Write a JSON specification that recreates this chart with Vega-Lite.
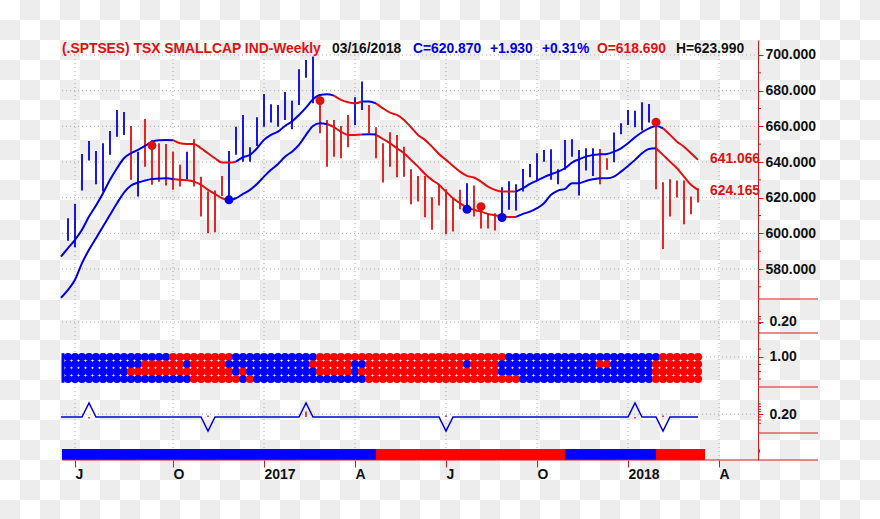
{
"$schema":"https://vega.github.io/schema/vega-lite/v6.json",
"width":880,"height":519,"padding":0,"autosize":"none","background":"#ffffff",
"view":{"stroke":null},
"config":{"text":{"font":"Liberation Sans"},"axis":{"labelFont":"Liberation Sans"}},
"datasets":{
"bars":[
{"d":"2016-06-24","p":608.5,"p2":595.8,"c":"U"},{"d":"2016-07-01","p":616.5,"p2":592.2,"c":"U"},{"d":"2016-07-08","p":644.5,"p2":624.0,"c":"U"},{"d":"2016-07-15","p":651.8,"p2":640.8,"c":"U"},{"d":"2016-07-22","p":646.2,"p2":627.5,"c":"U"},{"d":"2016-07-29","p":650.5,"p2":623.4,"c":"U"},{"d":"2016-08-05","p":657.4,"p2":644.0,"c":"U"},{"d":"2016-08-12","p":669.2,"p2":654.2,"c":"U"},{"d":"2016-08-19","p":668.1,"p2":655.2,"c":"U"},{"d":"2016-08-26","p":660.2,"p2":630.0,"c":"D"},{"d":"2016-09-02","p":645.8,"p2":620.6,"c":"U"},{"d":"2016-09-09","p":664.1,"p2":637.4,"c":"D"},{"d":"2016-09-16","p":652.4,"p2":627.2,"c":"D"},{"d":"2016-09-23","p":650.5,"p2":629.0,"c":"D"},{"d":"2016-09-30","p":650.1,"p2":626.8,"c":"D"},{"d":"2016-10-07","p":645.7,"p2":624.4,"c":"D"},{"d":"2016-10-14","p":638.4,"p2":626.2,"c":"D"},{"d":"2016-10-21","p":645.8,"p2":630.3,"c":"U"},{"d":"2016-10-28","p":652.8,"p2":626.2,"c":"D"},{"d":"2016-11-04","p":631.8,"p2":609.4,"c":"D"},{"d":"2016-11-11","p":623.4,"p2":600.1,"c":"D"},{"d":"2016-11-18","p":624.0,"p2":600.6,"c":"D"},{"d":"2016-11-25","p":632.2,"p2":621.0,"c":"D"},{"d":"2016-12-02","p":646.2,"p2":616.9,"c":"U"},{"d":"2016-12-09","p":659.8,"p2":644.0,"c":"U"},{"d":"2016-12-16","p":666.4,"p2":640.2,"c":"U"},{"d":"2016-12-23","p":648.3,"p2":640.2,"c":"U"},{"d":"2016-12-30","p":665.1,"p2":649.0,"c":"U"},
{"d":"2017-01-06","p":678.1,"p2":659.8,"c":"U"},{"d":"2017-01-13","p":672.4,"p2":662.1,"c":"U"},{"d":"2017-01-20","p":672.0,"p2":659.8,"c":"U"},{"d":"2017-01-27","p":679.3,"p2":663.6,"c":"U"},{"d":"2017-02-03","p":674.4,"p2":658.4,"c":"U"},{"d":"2017-02-10","p":692.0,"p2":672.0,"c":"U"},{"d":"2017-02-17","p":697.2,"p2":687.3,"c":"U"},{"d":"2017-02-24","p":699.1,"p2":672.9,"c":"U"},{"d":"2017-03-03","p":676.7,"p2":656.1,"c":"D"},{"d":"2017-03-10","p":663.6,"p2":637.4,"c":"D"},{"d":"2017-03-17","p":663.6,"p2":643.0,"c":"D"},{"d":"2017-03-24","p":660.2,"p2":642.1,"c":"D"},{"d":"2017-03-31","p":666.4,"p2":648.3,"c":"D"},{"d":"2017-04-07","p":676.3,"p2":660.8,"c":"U"},{"d":"2017-04-14","p":685.1,"p2":669.2,"c":"U"},{"d":"2017-04-21","p":672.0,"p2":656.1,"c":"D"},{"d":"2017-04-28","p":659.5,"p2":642.1,"c":"D"},{"d":"2017-05-05","p":650.5,"p2":628.5,"c":"D"},{"d":"2017-05-12","p":656.7,"p2":637.4,"c":"D"},{"d":"2017-05-19","p":655.2,"p2":631.5,"c":"D"},{"d":"2017-05-26","p":648.6,"p2":631.8,"c":"D"},{"d":"2017-06-02","p":635.9,"p2":616.3,"c":"D"},{"d":"2017-06-09","p":632.2,"p2":617.8,"c":"D"},{"d":"2017-06-16","p":632.2,"p2":609.1,"c":"D"},{"d":"2017-06-23","p":620.3,"p2":602.0,"c":"D"},{"d":"2017-06-30","p":627.2,"p2":615.6,"c":"D"},{"d":"2017-07-07","p":624.7,"p2":599.5,"c":"D"},{"d":"2017-07-14","p":619.7,"p2":601.0,"c":"D"},{"d":"2017-07-21","p":624.4,"p2":613.5,"c":"D"},{"d":"2017-07-28","p":628.1,"p2":613.2,"c":"U"},{"d":"2017-08-04","p":626.8,"p2":609.4,"c":"D"},{"d":"2017-08-11","p":616.9,"p2":602.7,"c":"D"},{"d":"2017-08-18","p":610.9,"p2":602.7,"c":"D"},{"d":"2017-08-25","p":611.3,"p2":601.6,"c":"D"},{"d":"2017-09-01","p":625.9,"p2":608.5,"c":"U"},{"d":"2017-09-08","p":629.2,"p2":613.2,"c":"U"},{"d":"2017-09-15","p":627.5,"p2":612.8,"c":"U"},{"d":"2017-09-22","p":636.1,"p2":623.4,"c":"U"},{"d":"2017-09-29","p":638.9,"p2":631.5,"c":"U"},{"d":"2017-10-06","p":644.9,"p2":629.6,"c":"U"},{"d":"2017-10-13","p":646.8,"p2":640.2,"c":"U"},{"d":"2017-10-20","p":647.1,"p2":630.0,"c":"U"},{"d":"2017-10-27","p":635.9,"p2":627.5,"c":"U"},{"d":"2017-11-03","p":652.4,"p2":635.6,"c":"U"},{"d":"2017-11-10","p":652.8,"p2":643.0,"c":"U"},{"d":"2017-11-17","p":646.8,"p2":621.2,"c":"U"},{"d":"2017-11-24","p":647.7,"p2":635.2,"c":"U"},{"d":"2017-12-01","p":647.7,"p2":632.2,"c":"U"},{"d":"2017-12-08","p":647.3,"p2":627.5,"c":"D"},{"d":"2017-12-15","p":642.1,"p2":635.6,"c":"D"},{"d":"2017-12-22","p":656.5,"p2":639.9,"c":"U"},{"d":"2017-12-29","p":661.7,"p2":655.6,"c":"U"},
{"d":"2018-01-05","p":669.2,"p2":660.8,"c":"U"},{"d":"2018-01-12","p":668.8,"p2":659.5,"c":"U"},{"d":"2018-01-19","p":673.5,"p2":657.6,"c":"U"},{"d":"2018-01-26","p":672.5,"p2":662.1,"c":"U"},{"d":"2018-02-02","p":663.6,"p2":624.7,"c":"D"},{"d":"2018-02-09","p":628.7,"p2":591.3,"c":"D"},{"d":"2018-02-16","p":630.3,"p2":609.4,"c":"D"},{"d":"2018-02-23","p":629.6,"p2":620.1,"c":"D"},{"d":"2018-03-02","p":629.6,"p2":605.1,"c":"D"},{"d":"2018-03-09","p":620.6,"p2":610.7,"c":"D"},{"d":"2018-03-16","p":625.3,"p2":617.3,"c":"D"}
],
"env":[
{"s":"a","c":"U","d":"2016-06-17","p":587.0},{"s":"a","c":"U","d":"2016-06-24","p":591.7},{"s":"a","c":"U","d":"2016-07-01","p":596.4},{"s":"a","c":"U","d":"2016-07-08","p":602.0},{"s":"a","c":"U","d":"2016-07-15","p":609.4},{"s":"a","c":"U","d":"2016-07-22","p":615.6},{"s":"a","c":"U","d":"2016-07-29","p":622.5},{"s":"a","c":"U","d":"2016-08-05","p":630.0},{"s":"a","c":"U","d":"2016-08-12","p":636.5},{"s":"a","c":"U","d":"2016-08-19","p":642.1},{"s":"a","c":"U","d":"2016-08-26","p":644.9},{"s":"a","c":"U","d":"2016-09-02","p":646.8},{"s":"a","c":"U","d":"2016-09-09","p":649.0},{"s":"a","c":"U","d":"2016-09-16","p":651.4},{"s":"a","c":"U","d":"2016-09-23","p":652.2},{"s":"a","c":"U","d":"2016-09-30","p":652.4},{"s":"a","c":"U","d":"2016-10-07","p":652.2},
{"s":"b","c":"D","d":"2016-10-07","p":652.2},{"s":"b","c":"D","d":"2016-10-14","p":650.5},{"s":"b","c":"D","d":"2016-10-21","p":650.1},{"s":"b","c":"D","d":"2016-10-28","p":650.1},{"s":"b","c":"D","d":"2016-11-04","p":647.7},{"s":"b","c":"D","d":"2016-11-11","p":644.9},{"s":"b","c":"D","d":"2016-11-18","p":642.1},{"s":"b","c":"D","d":"2016-11-25","p":639.7},{"s":"b","c":"D","d":"2016-12-02","p":639.7},{"s":"b","c":"D","d":"2016-12-09","p":640.2},
{"s":"c","c":"U","d":"2016-12-09","p":640.2},{"s":"c","c":"U","d":"2016-12-16","p":642.7},{"s":"c","c":"U","d":"2016-12-23","p":644.0},{"s":"c","c":"U","d":"2016-12-30","p":647.7},{"s":"c","c":"U","d":"2017-01-06","p":652.4},{"s":"c","c":"U","d":"2017-01-13","p":655.2},{"s":"c","c":"U","d":"2017-01-20","p":657.0},{"s":"c","c":"U","d":"2017-01-27","p":660.2},{"s":"c","c":"U","d":"2017-02-03","p":662.7},{"s":"c","c":"U","d":"2017-02-10","p":666.4},{"s":"c","c":"U","d":"2017-02-17","p":670.5},{"s":"c","c":"U","d":"2017-02-24","p":675.2},{"s":"c","c":"U","d":"2017-03-03","p":677.6},{"s":"c","c":"U","d":"2017-03-10","p":678.0},{"s":"c","c":"U","d":"2017-03-17","p":677.2},
{"s":"d","c":"D","d":"2017-03-17","p":677.2},{"s":"d","c":"D","d":"2017-03-24","p":674.8},{"s":"d","c":"D","d":"2017-03-31","p":673.5},{"s":"d","c":"D","d":"2017-04-07","p":672.9},{"s":"d","c":"D","d":"2017-04-14","p":673.9},
{"s":"e","c":"U","d":"2017-04-14","p":673.9},{"s":"e","c":"U","d":"2017-04-21","p":673.9},{"s":"e","c":"U","d":"2017-04-28","p":672.9},
{"s":"f","c":"D","d":"2017-04-28","p":672.9},{"s":"f","c":"D","d":"2017-05-05","p":670.1},{"s":"f","c":"D","d":"2017-05-12","p":667.7},{"s":"f","c":"D","d":"2017-05-19","p":666.4},{"s":"f","c":"D","d":"2017-05-26","p":663.6},{"s":"f","c":"D","d":"2017-06-02","p":659.5},{"s":"f","c":"D","d":"2017-06-09","p":655.2},{"s":"f","c":"D","d":"2017-06-16","p":652.4},{"s":"f","c":"D","d":"2017-06-23","p":648.6},{"s":"f","c":"D","d":"2017-06-30","p":644.5},{"s":"f","c":"D","d":"2017-07-07","p":641.2},{"s":"f","c":"D","d":"2017-07-14","p":637.8},{"s":"f","c":"D","d":"2017-07-21","p":634.6},{"s":"f","c":"D","d":"2017-07-28","p":632.2},{"s":"f","c":"D","d":"2017-08-04","p":631.3},{"s":"f","c":"D","d":"2017-08-11","p":629.0},{"s":"f","c":"D","d":"2017-08-18","p":626.2},{"s":"f","c":"D","d":"2017-08-25","p":624.4},{"s":"f","c":"D","d":"2017-09-01","p":623.4},{"s":"f","c":"D","d":"2017-09-08","p":623.4},{"s":"f","c":"D","d":"2017-09-15","p":623.4},
{"s":"g","c":"U","d":"2017-09-15","p":623.4},{"s":"g","c":"U","d":"2017-09-22","p":625.3},{"s":"g","c":"U","d":"2017-09-29","p":627.7},{"s":"g","c":"U","d":"2017-10-06","p":629.6},{"s":"g","c":"U","d":"2017-10-13","p":631.5},{"s":"g","c":"U","d":"2017-10-20","p":633.1},{"s":"g","c":"U","d":"2017-10-27","p":634.6},{"s":"g","c":"U","d":"2017-11-03","p":636.5},{"s":"g","c":"U","d":"2017-11-10","p":639.7},{"s":"g","c":"U","d":"2017-11-17","p":641.5},{"s":"g","c":"U","d":"2017-11-24","p":643.0},{"s":"g","c":"U","d":"2017-12-01","p":644.0},{"s":"g","c":"U","d":"2017-12-08","p":644.3},{"s":"g","c":"U","d":"2017-12-15","p":644.5},{"s":"g","c":"U","d":"2017-12-22","p":645.8},{"s":"g","c":"U","d":"2017-12-29","p":647.7},{"s":"g","c":"U","d":"2018-01-05","p":650.5},{"s":"g","c":"U","d":"2018-01-12","p":653.9},{"s":"g","c":"U","d":"2018-01-19","p":656.7},{"s":"g","c":"U","d":"2018-01-26","p":658.9},{"s":"g","c":"U","d":"2018-02-02","p":660.2},{"s":"g","c":"U","d":"2018-02-09","p":658.9},
{"s":"h","c":"D","d":"2018-02-09","p":658.9},{"s":"h","c":"D","d":"2018-02-16","p":655.2},{"s":"h","c":"D","d":"2018-02-23","p":651.4},{"s":"h","c":"D","d":"2018-03-02","p":648.6},{"s":"h","c":"D","d":"2018-03-09","p":644.9},{"s":"h","c":"D","d":"2018-03-16","p":641.2},
{"s":"i","c":"U","d":"2016-06-17","p":563.9},{"s":"i","c":"U","d":"2016-06-24","p":568.3},{"s":"i","c":"U","d":"2016-07-01","p":574.0},{"s":"i","c":"U","d":"2016-07-08","p":583.3},{"s":"i","c":"U","d":"2016-07-15","p":590.8},{"s":"i","c":"U","d":"2016-07-22","p":597.3},{"s":"i","c":"U","d":"2016-07-29","p":603.8},{"s":"i","c":"U","d":"2016-08-05","p":610.4},{"s":"i","c":"U","d":"2016-08-12","p":616.9},{"s":"i","c":"U","d":"2016-08-19","p":622.9},{"s":"i","c":"U","d":"2016-08-26","p":626.8},{"s":"i","c":"U","d":"2016-09-02","p":628.5},{"s":"i","c":"U","d":"2016-09-09","p":629.6},{"s":"i","c":"U","d":"2016-09-16","p":630.5},{"s":"i","c":"U","d":"2016-09-23","p":630.7},{"s":"i","c":"U","d":"2016-09-30","p":630.9},{"s":"i","c":"U","d":"2016-10-07","p":630.5},
{"s":"j","c":"D","d":"2016-10-07","p":630.5},{"s":"j","c":"D","d":"2016-10-14","p":630.0},{"s":"j","c":"D","d":"2016-10-21","p":629.8},{"s":"j","c":"D","d":"2016-10-28","p":629.0},{"s":"j","c":"D","d":"2016-11-04","p":627.2},{"s":"j","c":"D","d":"2016-11-11","p":624.4},{"s":"j","c":"D","d":"2016-11-18","p":622.1},{"s":"j","c":"D","d":"2016-11-25","p":619.7},{"s":"j","c":"D","d":"2016-12-02","p":618.8},
{"s":"k","c":"U","d":"2016-12-02","p":618.8},{"s":"k","c":"U","d":"2016-12-09","p":619.7},{"s":"k","c":"U","d":"2016-12-16","p":622.1},{"s":"k","c":"U","d":"2016-12-23","p":624.4},{"s":"k","c":"U","d":"2016-12-30","p":627.7},{"s":"k","c":"U","d":"2017-01-06","p":631.8},{"s":"k","c":"U","d":"2017-01-13","p":635.6},{"s":"k","c":"U","d":"2017-01-20","p":638.9},{"s":"k","c":"U","d":"2017-01-27","p":643.0},{"s":"k","c":"U","d":"2017-02-03","p":645.8},{"s":"k","c":"U","d":"2017-02-10","p":649.6},{"s":"k","c":"U","d":"2017-02-17","p":655.2},{"s":"k","c":"U","d":"2017-02-24","p":660.2},{"s":"k","c":"U","d":"2017-03-03","p":661.7},{"s":"k","c":"U","d":"2017-03-10","p":661.3},
{"s":"l","c":"D","d":"2017-03-10","p":661.3},{"s":"l","c":"D","d":"2017-03-17","p":659.5},{"s":"l","c":"D","d":"2017-03-24","p":657.0},{"s":"l","c":"D","d":"2017-03-31","p":655.2},{"s":"l","c":"D","d":"2017-04-07","p":655.2},{"s":"l","c":"D","d":"2017-04-14","p":655.4},
{"s":"m","c":"U","d":"2017-04-14","p":655.4},{"s":"m","c":"U","d":"2017-04-21","p":655.6},{"s":"m","c":"U","d":"2017-04-28","p":655.4},
{"s":"n","c":"D","d":"2017-04-28","p":655.4},{"s":"n","c":"D","d":"2017-05-05","p":652.9},{"s":"n","c":"D","d":"2017-05-12","p":650.5},{"s":"n","c":"D","d":"2017-05-19","p":647.7},{"s":"n","c":"D","d":"2017-05-26","p":644.9},{"s":"n","c":"D","d":"2017-06-02","p":641.2},{"s":"n","c":"D","d":"2017-06-09","p":637.4},{"s":"n","c":"D","d":"2017-06-16","p":633.3},{"s":"n","c":"D","d":"2017-06-23","p":630.0},{"s":"n","c":"D","d":"2017-06-30","p":627.2},{"s":"n","c":"D","d":"2017-07-07","p":623.4},{"s":"n","c":"D","d":"2017-07-14","p":619.7},{"s":"n","c":"D","d":"2017-07-21","p":616.9},{"s":"n","c":"D","d":"2017-07-28","p":614.5},{"s":"n","c":"D","d":"2017-08-04","p":613.2},{"s":"n","c":"D","d":"2017-08-11","p":612.2},{"s":"n","c":"D","d":"2017-08-18","p":610.9},{"s":"n","c":"D","d":"2017-08-25","p":610.2},{"s":"n","c":"D","d":"2017-09-01","p":609.4},{"s":"n","c":"D","d":"2017-09-08","p":609.2},{"s":"n","c":"D","d":"2017-09-15","p":609.2},
{"s":"o","c":"U","d":"2017-09-15","p":609.2},{"s":"o","c":"U","d":"2017-09-22","p":610.9},{"s":"o","c":"U","d":"2017-09-29","p":612.2},{"s":"o","c":"U","d":"2017-10-06","p":614.1},{"s":"o","c":"U","d":"2017-10-13","p":616.9},{"s":"o","c":"U","d":"2017-10-20","p":621.6},{"s":"o","c":"U","d":"2017-10-27","p":624.0},{"s":"o","c":"U","d":"2017-11-03","p":624.9},{"s":"o","c":"U","d":"2017-11-10","p":628.1},{"s":"o","c":"U","d":"2017-11-17","p":628.1},{"s":"o","c":"U","d":"2017-11-24","p":629.4},{"s":"o","c":"U","d":"2017-12-01","p":630.3},{"s":"o","c":"U","d":"2017-12-08","p":630.9},{"s":"o","c":"U","d":"2017-12-15","p":630.9},{"s":"o","c":"U","d":"2017-12-22","p":631.8},{"s":"o","c":"U","d":"2017-12-29","p":634.6},{"s":"o","c":"U","d":"2018-01-05","p":637.8},{"s":"o","c":"U","d":"2018-01-12","p":641.2},{"s":"o","c":"U","d":"2018-01-19","p":644.9},{"s":"o","c":"U","d":"2018-01-26","p":647.3},{"s":"o","c":"U","d":"2018-02-02","p":647.7},
{"s":"q","c":"D","d":"2018-02-02","p":647.7},{"s":"q","c":"D","d":"2018-02-09","p":644.0},{"s":"q","c":"D","d":"2018-02-16","p":640.2},{"s":"q","c":"D","d":"2018-02-23","p":636.5},{"s":"q","c":"D","d":"2018-03-02","p":631.8},{"s":"q","c":"D","d":"2018-03-09","p":627.2},{"s":"q","c":"D","d":"2018-03-16","p":624.4}
],
"dots":[{"d":"2016-09-16","p":649.2,"c":"D"},{"d":"2016-12-02","p":618.8,"c":"U"},{"d":"2017-03-03","p":674.4,"c":"D"},{"d":"2017-07-28","p":613.5,"c":"U"},{"d":"2017-08-11","p":615.0,"c":"D"},{"d":"2017-09-01","p":608.9,"c":"U"},{"d":"2018-02-02","p":662.3,"c":"D"}],
"head":[{"d":"2016-06-18","p":703.4,"c":"D","t":"(.SPTSES) TSX SMALLCAP IND-Weekly"},{"d":"2017-03-15","p":703.4,"c":"N","t":"03/16/2018"},{"d":"2017-06-04","p":703.4,"c":"U","t":"C=620.870"},{"d":"2017-08-20","p":703.4,"c":"U","t":"+1.930"},{"d":"2017-10-11","p":703.4,"c":"U","t":"+0.31%"},{"d":"2017-12-05","p":703.4,"c":"D","t":"O=618.690"},{"d":"2018-02-22","p":703.4,"c":"N","t":"H=623.990"},{"d":"2018-03-28","p":641.5,"c":"D","t":"641.066"},{"d":"2018-03-28","p":624.0,"c":"D","t":"624.165"}],
"cells":[
{"d":"2016-06-24","p":1,"c":"U"},{"d":"2016-07-01","p":1,"c":"U"},{"d":"2016-07-08","p":1,"c":"U"},{"d":"2016-07-15","p":1,"c":"U"},{"d":"2016-07-22","p":1,"c":"U"},{"d":"2016-07-29","p":1,"c":"U"},{"d":"2016-08-05","p":1,"c":"U"},{"d":"2016-08-12","p":1,"c":"U"},{"d":"2016-08-19","p":1,"c":"U"},{"d":"2016-08-26","p":1,"c":"U"},{"d":"2016-09-02","p":1,"c":"U"},{"d":"2016-09-09","p":1,"c":"U"},{"d":"2016-09-16","p":1,"c":"U"},{"d":"2016-09-23","p":1,"c":"U"},{"d":"2016-09-30","p":1,"c":"U"},{"d":"2016-10-07","p":1,"c":"D"},{"d":"2016-10-14","p":1,"c":"D"},{"d":"2016-10-21","p":1,"c":"D"},{"d":"2016-10-28","p":1,"c":"D"},{"d":"2016-11-04","p":1,"c":"D"},{"d":"2016-11-11","p":1,"c":"D"},{"d":"2016-11-18","p":1,"c":"D"},{"d":"2016-11-25","p":1,"c":"D"},{"d":"2016-12-02","p":1,"c":"D"},{"d":"2016-12-09","p":1,"c":"U"},{"d":"2016-12-16","p":1,"c":"U"},{"d":"2016-12-23","p":1,"c":"U"},{"d":"2016-12-30","p":1,"c":"U"},{"d":"2017-01-06","p":1,"c":"U"},{"d":"2017-01-13","p":1,"c":"U"},{"d":"2017-01-20","p":1,"c":"U"},{"d":"2017-01-27","p":1,"c":"U"},{"d":"2017-02-03","p":1,"c":"U"},{"d":"2017-02-10","p":1,"c":"U"},{"d":"2017-02-17","p":1,"c":"U"},{"d":"2017-02-24","p":1,"c":"U"},{"d":"2017-03-03","p":1,"c":"D"},{"d":"2017-03-10","p":1,"c":"D"},{"d":"2017-03-17","p":1,"c":"D"},{"d":"2017-03-24","p":1,"c":"D"},{"d":"2017-03-31","p":1,"c":"D"},{"d":"2017-04-07","p":1,"c":"D"},{"d":"2017-04-14","p":1,"c":"D"},{"d":"2017-04-21","p":1,"c":"D"},{"d":"2017-04-28","p":1,"c":"D"},{"d":"2017-05-05","p":1,"c":"D"},{"d":"2017-05-12","p":1,"c":"D"},{"d":"2017-05-19","p":1,"c":"D"},{"d":"2017-05-26","p":1,"c":"D"},{"d":"2017-06-02","p":1,"c":"D"},{"d":"2017-06-09","p":1,"c":"D"},{"d":"2017-06-16","p":1,"c":"D"},{"d":"2017-06-23","p":1,"c":"D"},{"d":"2017-06-30","p":1,"c":"D"},{"d":"2017-07-07","p":1,"c":"D"},{"d":"2017-07-14","p":1,"c":"D"},{"d":"2017-07-21","p":1,"c":"D"},{"d":"2017-07-28","p":1,"c":"D"},{"d":"2017-08-04","p":1,"c":"D"},{"d":"2017-08-11","p":1,"c":"D"},{"d":"2017-08-18","p":1,"c":"D"},{"d":"2017-08-25","p":1,"c":"D"},{"d":"2017-09-01","p":1,"c":"D"},{"d":"2017-09-08","p":1,"c":"U"},{"d":"2017-09-15","p":1,"c":"U"},{"d":"2017-09-22","p":1,"c":"U"},{"d":"2017-09-29","p":1,"c":"U"},{"d":"2017-10-06","p":1,"c":"U"},{"d":"2017-10-13","p":1,"c":"U"},{"d":"2017-10-20","p":1,"c":"U"},{"d":"2017-10-27","p":1,"c":"U"},{"d":"2017-11-03","p":1,"c":"U"},{"d":"2017-11-10","p":1,"c":"U"},{"d":"2017-11-17","p":1,"c":"U"},{"d":"2017-11-24","p":1,"c":"U"},{"d":"2017-12-01","p":1,"c":"U"},{"d":"2017-12-08","p":1,"c":"U"},{"d":"2017-12-15","p":1,"c":"U"},{"d":"2017-12-22","p":1,"c":"U"},{"d":"2017-12-29","p":1,"c":"U"},{"d":"2018-01-05","p":1,"c":"U"},{"d":"2018-01-12","p":1,"c":"U"},{"d":"2018-01-19","p":1,"c":"U"},{"d":"2018-01-26","p":1,"c":"U"},{"d":"2018-02-02","p":1,"c":"U"},{"d":"2018-02-09","p":1,"c":"D"},{"d":"2018-02-16","p":1,"c":"D"},{"d":"2018-02-23","p":1,"c":"D"},{"d":"2018-03-02","p":1,"c":"D"},{"d":"2018-03-09","p":1,"c":"D"},{"d":"2018-03-16","p":1,"c":"D"},
{"d":"2016-06-24","p":0.75,"c":"U"},{"d":"2016-07-01","p":0.75,"c":"U"},{"d":"2016-07-08","p":0.75,"c":"U"},{"d":"2016-07-15","p":0.75,"c":"U"},{"d":"2016-07-22","p":0.75,"c":"U"},{"d":"2016-07-29","p":0.75,"c":"U"},{"d":"2016-08-05","p":0.75,"c":"U"},{"d":"2016-08-12","p":0.75,"c":"U"},{"d":"2016-08-19","p":0.75,"c":"U"},{"d":"2016-08-26","p":0.75,"c":"U"},{"d":"2016-09-02","p":0.75,"c":"U"},{"d":"2016-09-09","p":0.75,"c":"D"},{"d":"2016-09-16","p":0.75,"c":"D"},{"d":"2016-09-23","p":0.75,"c":"D"},{"d":"2016-09-30","p":0.75,"c":"D"},{"d":"2016-10-07","p":0.75,"c":"D"},{"d":"2016-10-14","p":0.75,"c":"D"},{"d":"2016-10-21","p":0.75,"c":"U"},{"d":"2016-10-28","p":0.75,"c":"D"},{"d":"2016-11-04","p":0.75,"c":"D"},{"d":"2016-11-11","p":0.75,"c":"D"},{"d":"2016-11-18","p":0.75,"c":"D"},{"d":"2016-11-25","p":0.75,"c":"D"},{"d":"2016-12-02","p":0.75,"c":"U"},{"d":"2016-12-09","p":0.75,"c":"U"},{"d":"2016-12-16","p":0.75,"c":"U"},{"d":"2016-12-23","p":0.75,"c":"U"},{"d":"2016-12-30","p":0.75,"c":"U"},{"d":"2017-01-06","p":0.75,"c":"U"},{"d":"2017-01-13","p":0.75,"c":"U"},{"d":"2017-01-20","p":0.75,"c":"U"},{"d":"2017-01-27","p":0.75,"c":"U"},{"d":"2017-02-03","p":0.75,"c":"U"},{"d":"2017-02-10","p":0.75,"c":"U"},{"d":"2017-02-17","p":0.75,"c":"U"},{"d":"2017-02-24","p":0.75,"c":"D"},{"d":"2017-03-03","p":0.75,"c":"D"},{"d":"2017-03-10","p":0.75,"c":"D"},{"d":"2017-03-17","p":0.75,"c":"D"},{"d":"2017-03-24","p":0.75,"c":"D"},{"d":"2017-03-31","p":0.75,"c":"D"},{"d":"2017-04-07","p":0.75,"c":"U"},{"d":"2017-04-14","p":0.75,"c":"U"},{"d":"2017-04-21","p":0.75,"c":"D"},{"d":"2017-04-28","p":0.75,"c":"D"},{"d":"2017-05-05","p":0.75,"c":"D"},{"d":"2017-05-12","p":0.75,"c":"D"},{"d":"2017-05-19","p":0.75,"c":"D"},{"d":"2017-05-26","p":0.75,"c":"D"},{"d":"2017-06-02","p":0.75,"c":"D"},{"d":"2017-06-09","p":0.75,"c":"D"},{"d":"2017-06-16","p":0.75,"c":"D"},{"d":"2017-06-23","p":0.75,"c":"D"},{"d":"2017-06-30","p":0.75,"c":"D"},{"d":"2017-07-07","p":0.75,"c":"D"},{"d":"2017-07-14","p":0.75,"c":"D"},{"d":"2017-07-21","p":0.75,"c":"D"},{"d":"2017-07-28","p":0.75,"c":"U"},{"d":"2017-08-04","p":0.75,"c":"D"},{"d":"2017-08-11","p":0.75,"c":"D"},{"d":"2017-08-18","p":0.75,"c":"D"},{"d":"2017-08-25","p":0.75,"c":"D"},{"d":"2017-09-01","p":0.75,"c":"U"},{"d":"2017-09-08","p":0.75,"c":"U"},{"d":"2017-09-15","p":0.75,"c":"U"},{"d":"2017-09-22","p":0.75,"c":"U"},{"d":"2017-09-29","p":0.75,"c":"U"},{"d":"2017-10-06","p":0.75,"c":"U"},{"d":"2017-10-13","p":0.75,"c":"U"},{"d":"2017-10-20","p":0.75,"c":"U"},{"d":"2017-10-27","p":0.75,"c":"U"},{"d":"2017-11-03","p":0.75,"c":"U"},{"d":"2017-11-10","p":0.75,"c":"U"},{"d":"2017-11-17","p":0.75,"c":"U"},{"d":"2017-11-24","p":0.75,"c":"U"},{"d":"2017-12-01","p":0.75,"c":"U"},{"d":"2017-12-08","p":0.75,"c":"D"},{"d":"2017-12-15","p":0.75,"c":"D"},{"d":"2017-12-22","p":0.75,"c":"U"},{"d":"2017-12-29","p":0.75,"c":"U"},{"d":"2018-01-05","p":0.75,"c":"U"},{"d":"2018-01-12","p":0.75,"c":"U"},{"d":"2018-01-19","p":0.75,"c":"U"},{"d":"2018-01-26","p":0.75,"c":"U"},{"d":"2018-02-02","p":0.75,"c":"D"},{"d":"2018-02-09","p":0.75,"c":"D"},{"d":"2018-02-16","p":0.75,"c":"D"},{"d":"2018-02-23","p":0.75,"c":"D"},{"d":"2018-03-02","p":0.75,"c":"D"},{"d":"2018-03-09","p":0.75,"c":"D"},{"d":"2018-03-16","p":0.75,"c":"D"},
{"d":"2016-06-24","p":0.5,"c":"U"},{"d":"2016-07-01","p":0.5,"c":"U"},{"d":"2016-07-08","p":0.5,"c":"U"},{"d":"2016-07-15","p":0.5,"c":"U"},{"d":"2016-07-22","p":0.5,"c":"U"},{"d":"2016-07-29","p":0.5,"c":"U"},{"d":"2016-08-05","p":0.5,"c":"U"},{"d":"2016-08-12","p":0.5,"c":"U"},{"d":"2016-08-19","p":0.5,"c":"U"},{"d":"2016-08-26","p":0.5,"c":"D"},{"d":"2016-09-02","p":0.5,"c":"D"},{"d":"2016-09-09","p":0.5,"c":"D"},{"d":"2016-09-16","p":0.5,"c":"D"},{"d":"2016-09-23","p":0.5,"c":"D"},{"d":"2016-09-30","p":0.5,"c":"D"},{"d":"2016-10-07","p":0.5,"c":"D"},{"d":"2016-10-14","p":0.5,"c":"D"},{"d":"2016-10-21","p":0.5,"c":"D"},{"d":"2016-10-28","p":0.5,"c":"D"},{"d":"2016-11-04","p":0.5,"c":"D"},{"d":"2016-11-11","p":0.5,"c":"D"},{"d":"2016-11-18","p":0.5,"c":"D"},{"d":"2016-11-25","p":0.5,"c":"D"},{"d":"2016-12-02","p":0.5,"c":"D"},{"d":"2016-12-09","p":0.5,"c":"U"},{"d":"2016-12-16","p":0.5,"c":"D"},{"d":"2016-12-23","p":0.5,"c":"U"},{"d":"2016-12-30","p":0.5,"c":"U"},{"d":"2017-01-06","p":0.5,"c":"U"},{"d":"2017-01-13","p":0.5,"c":"U"},{"d":"2017-01-20","p":0.5,"c":"U"},{"d":"2017-01-27","p":0.5,"c":"U"},{"d":"2017-02-03","p":0.5,"c":"U"},{"d":"2017-02-10","p":0.5,"c":"U"},{"d":"2017-02-17","p":0.5,"c":"U"},{"d":"2017-02-24","p":0.5,"c":"U"},{"d":"2017-03-03","p":0.5,"c":"D"},{"d":"2017-03-10","p":0.5,"c":"D"},{"d":"2017-03-17","p":0.5,"c":"D"},{"d":"2017-03-24","p":0.5,"c":"D"},{"d":"2017-03-31","p":0.5,"c":"D"},{"d":"2017-04-07","p":0.5,"c":"U"},{"d":"2017-04-14","p":0.5,"c":"D"},{"d":"2017-04-21","p":0.5,"c":"D"},{"d":"2017-04-28","p":0.5,"c":"D"},{"d":"2017-05-05","p":0.5,"c":"D"},{"d":"2017-05-12","p":0.5,"c":"D"},{"d":"2017-05-19","p":0.5,"c":"D"},{"d":"2017-05-26","p":0.5,"c":"D"},{"d":"2017-06-02","p":0.5,"c":"D"},{"d":"2017-06-09","p":0.5,"c":"D"},{"d":"2017-06-16","p":0.5,"c":"D"},{"d":"2017-06-23","p":0.5,"c":"D"},{"d":"2017-06-30","p":0.5,"c":"D"},{"d":"2017-07-07","p":0.5,"c":"D"},{"d":"2017-07-14","p":0.5,"c":"D"},{"d":"2017-07-21","p":0.5,"c":"D"},{"d":"2017-07-28","p":0.5,"c":"D"},{"d":"2017-08-04","p":0.5,"c":"D"},{"d":"2017-08-11","p":0.5,"c":"D"},{"d":"2017-08-18","p":0.5,"c":"D"},{"d":"2017-08-25","p":0.5,"c":"D"},{"d":"2017-09-01","p":0.5,"c":"U"},{"d":"2017-09-08","p":0.5,"c":"U"},{"d":"2017-09-15","p":0.5,"c":"U"},{"d":"2017-09-22","p":0.5,"c":"U"},{"d":"2017-09-29","p":0.5,"c":"U"},{"d":"2017-10-06","p":0.5,"c":"U"},{"d":"2017-10-13","p":0.5,"c":"U"},{"d":"2017-10-20","p":0.5,"c":"U"},{"d":"2017-10-27","p":0.5,"c":"U"},{"d":"2017-11-03","p":0.5,"c":"U"},{"d":"2017-11-10","p":0.5,"c":"U"},{"d":"2017-11-17","p":0.5,"c":"U"},{"d":"2017-11-24","p":0.5,"c":"U"},{"d":"2017-12-01","p":0.5,"c":"U"},{"d":"2017-12-08","p":0.5,"c":"U"},{"d":"2017-12-15","p":0.5,"c":"U"},{"d":"2017-12-22","p":0.5,"c":"U"},{"d":"2017-12-29","p":0.5,"c":"U"},{"d":"2018-01-05","p":0.5,"c":"U"},{"d":"2018-01-12","p":0.5,"c":"U"},{"d":"2018-01-19","p":0.5,"c":"U"},{"d":"2018-01-26","p":0.5,"c":"U"},{"d":"2018-02-02","p":0.5,"c":"D"},{"d":"2018-02-09","p":0.5,"c":"D"},{"d":"2018-02-16","p":0.5,"c":"D"},{"d":"2018-02-23","p":0.5,"c":"D"},{"d":"2018-03-02","p":0.5,"c":"D"},{"d":"2018-03-09","p":0.5,"c":"D"},{"d":"2018-03-16","p":0.5,"c":"D"},
{"d":"2016-06-24","p":0.25,"c":"U"},{"d":"2016-07-01","p":0.25,"c":"U"},{"d":"2016-07-08","p":0.25,"c":"U"},{"d":"2016-07-15","p":0.25,"c":"U"},{"d":"2016-07-22","p":0.25,"c":"U"},{"d":"2016-07-29","p":0.25,"c":"U"},{"d":"2016-08-05","p":0.25,"c":"U"},{"d":"2016-08-12","p":0.25,"c":"U"},{"d":"2016-08-19","p":0.25,"c":"U"},{"d":"2016-08-26","p":0.25,"c":"U"},{"d":"2016-09-02","p":0.25,"c":"U"},{"d":"2016-09-09","p":0.25,"c":"U"},{"d":"2016-09-16","p":0.25,"c":"U"},{"d":"2016-09-23","p":0.25,"c":"U"},{"d":"2016-09-30","p":0.25,"c":"U"},{"d":"2016-10-07","p":0.25,"c":"U"},{"d":"2016-10-14","p":0.25,"c":"U"},{"d":"2016-10-21","p":0.25,"c":"U"},{"d":"2016-10-28","p":0.25,"c":"D"},{"d":"2016-11-04","p":0.25,"c":"D"},{"d":"2016-11-11","p":0.25,"c":"D"},{"d":"2016-11-18","p":0.25,"c":"D"},{"d":"2016-11-25","p":0.25,"c":"D"},{"d":"2016-12-02","p":0.25,"c":"D"},{"d":"2016-12-09","p":0.25,"c":"D"},{"d":"2016-12-16","p":0.25,"c":"U"},{"d":"2016-12-23","p":0.25,"c":"D"},{"d":"2016-12-30","p":0.25,"c":"U"},{"d":"2017-01-06","p":0.25,"c":"U"},{"d":"2017-01-13","p":0.25,"c":"U"},{"d":"2017-01-20","p":0.25,"c":"U"},{"d":"2017-01-27","p":0.25,"c":"U"},{"d":"2017-02-03","p":0.25,"c":"U"},{"d":"2017-02-10","p":0.25,"c":"U"},{"d":"2017-02-17","p":0.25,"c":"U"},{"d":"2017-02-24","p":0.25,"c":"U"},{"d":"2017-03-03","p":0.25,"c":"U"},{"d":"2017-03-10","p":0.25,"c":"U"},{"d":"2017-03-17","p":0.25,"c":"U"},{"d":"2017-03-24","p":0.25,"c":"U"},{"d":"2017-03-31","p":0.25,"c":"U"},{"d":"2017-04-07","p":0.25,"c":"U"},{"d":"2017-04-14","p":0.25,"c":"U"},{"d":"2017-04-21","p":0.25,"c":"D"},{"d":"2017-04-28","p":0.25,"c":"D"},{"d":"2017-05-05","p":0.25,"c":"D"},{"d":"2017-05-12","p":0.25,"c":"D"},{"d":"2017-05-19","p":0.25,"c":"D"},{"d":"2017-05-26","p":0.25,"c":"D"},{"d":"2017-06-02","p":0.25,"c":"D"},{"d":"2017-06-09","p":0.25,"c":"D"},{"d":"2017-06-16","p":0.25,"c":"D"},{"d":"2017-06-23","p":0.25,"c":"D"},{"d":"2017-06-30","p":0.25,"c":"D"},{"d":"2017-07-07","p":0.25,"c":"D"},{"d":"2017-07-14","p":0.25,"c":"D"},{"d":"2017-07-21","p":0.25,"c":"D"},{"d":"2017-07-28","p":0.25,"c":"D"},{"d":"2017-08-04","p":0.25,"c":"D"},{"d":"2017-08-11","p":0.25,"c":"D"},{"d":"2017-08-18","p":0.25,"c":"D"},{"d":"2017-08-25","p":0.25,"c":"D"},{"d":"2017-09-01","p":0.25,"c":"D"},{"d":"2017-09-08","p":0.25,"c":"D"},{"d":"2017-09-15","p":0.25,"c":"D"},{"d":"2017-09-22","p":0.25,"c":"U"},{"d":"2017-09-29","p":0.25,"c":"U"},{"d":"2017-10-06","p":0.25,"c":"U"},{"d":"2017-10-13","p":0.25,"c":"U"},{"d":"2017-10-20","p":0.25,"c":"U"},{"d":"2017-10-27","p":0.25,"c":"U"},{"d":"2017-11-03","p":0.25,"c":"U"},{"d":"2017-11-10","p":0.25,"c":"U"},{"d":"2017-11-17","p":0.25,"c":"U"},{"d":"2017-11-24","p":0.25,"c":"U"},{"d":"2017-12-01","p":0.25,"c":"U"},{"d":"2017-12-08","p":0.25,"c":"U"},{"d":"2017-12-15","p":0.25,"c":"U"},{"d":"2017-12-22","p":0.25,"c":"U"},{"d":"2017-12-29","p":0.25,"c":"U"},{"d":"2018-01-05","p":0.25,"c":"U"},{"d":"2018-01-12","p":0.25,"c":"U"},{"d":"2018-01-19","p":0.25,"c":"U"},{"d":"2018-01-26","p":0.25,"c":"U"},{"d":"2018-02-02","p":0.25,"c":"D"},{"d":"2018-02-09","p":0.25,"c":"D"},{"d":"2018-02-16","p":0.25,"c":"D"},{"d":"2018-02-23","p":0.25,"c":"D"},{"d":"2018-03-02","p":0.25,"c":"D"},{"d":"2018-03-09","p":0.25,"c":"D"},{"d":"2018-03-16","p":0.25,"c":"D"}
],
"osc":[{"d":"2016-06-17","p":0},{"d":"2016-07-08","p":0},{"d":"2016-07-15","p":1},{"d":"2016-07-22","p":0},{"d":"2016-11-04","p":0},{"d":"2016-11-11","p":-1},{"d":"2016-11-18","p":0},{"d":"2017-02-10","p":0},{"d":"2017-02-17","p":1},{"d":"2017-02-24","p":0},{"d":"2017-06-30","p":0},{"d":"2017-07-07","p":-1},{"d":"2017-07-14","p":0},{"d":"2018-01-05","p":0},{"d":"2018-01-12","p":1},{"d":"2018-01-19","p":0},{"d":"2018-02-02","p":0},{"d":"2018-02-09","p":-1},{"d":"2018-02-16","p":0},{"d":"2018-03-16","p":0}],
"strip":[{"d":"2016-06-18","e":"2017-04-28","c":"U","p":0,"p2":0.41},{"d":"2017-04-28","e":"2017-11-03","c":"D","p":0,"p2":0.41},{"d":"2017-11-03","e":"2018-02-02","c":"U","p":0,"p2":0.41},{"d":"2018-02-02","e":"2018-03-23","c":"D","p":0,"p2":0.41}],
"checker":[
{"d":"2016-04-17","e":"2016-05-07","r":[1,3,5,7,9,11,13,15,17,19,21,23,25]},{"d":"2016-05-07","e":"2016-05-27","r":[0,2,4,6,8,10,12,14,16,18,20,22,24]},{"d":"2016-05-27","e":"2016-06-16","r":[1,3,5,7,9,11,13,15,17,19,21,23,25]},{"d":"2016-06-16","e":"2016-07-06","r":[0,2,4,6,8,10,12,14,16,18,20,22,24]},{"d":"2016-07-06","e":"2016-07-26","r":[1,3,5,7,9,11,13,15,17,19,21,23,25]},{"d":"2016-07-26","e":"2016-08-15","r":[0,2,4,6,8,10,12,14,16,18,20,22,24]},{"d":"2016-08-15","e":"2016-09-04","r":[1,3,5,7,9,11,13,15,17,19,21,23,25]},{"d":"2016-09-04","e":"2016-09-24","r":[0,2,4,6,8,10,12,14,16,18,20,22,24]},{"d":"2016-09-24","e":"2016-10-14","r":[1,3,5,7,9,11,13,15,17,19,21,23,25]},{"d":"2016-10-14","e":"2016-11-03","r":[0,2,4,6,8,10,12,14,16,18,20,22,24]},{"d":"2016-11-03","e":"2016-11-23","r":[1,3,5,7,9,11,13,15,17,19,21,23,25]},{"d":"2016-11-23","e":"2016-12-13","r":[0,2,4,6,8,10,12,14,16,18,20,22,24]},{"d":"2016-12-13","e":"2017-01-02","r":[1,3,5,7,9,11,13,15,17,19,21,23,25]},{"d":"2017-01-02","e":"2017-01-22","r":[0,2,4,6,8,10,12,14,16,18,20,22,24]},{"d":"2017-01-22","e":"2017-02-11","r":[1,3,5,7,9,11,13,15,17,19,21,23,25]},{"d":"2017-02-11","e":"2017-03-03","r":[0,2,4,6,8,10,12,14,16,18,20,22,24]},{"d":"2017-03-03","e":"2017-03-23","r":[1,3,5,7,9,11,13,15,17,19,21,23,25]},{"d":"2017-03-23","e":"2017-04-12","r":[0,2,4,6,8,10,12,14,16,18,20,22,24]},{"d":"2017-04-12","e":"2017-05-02","r":[1,3,5,7,9,11,13,15,17,19,21,23,25]},{"d":"2017-05-02","e":"2017-05-22","r":[0,2,4,6,8,10,12,14,16,18,20,22,24]},{"d":"2017-05-22","e":"2017-06-11","r":[1,3,5,7,9,11,13,15,17,19,21,23,25]},{"d":"2017-06-11","e":"2017-07-01","r":[0,2,4,6,8,10,12,14,16,18,20,22,24]},{"d":"2017-07-01","e":"2017-07-21","r":[1,3,5,7,9,11,13,15,17,19,21,23,25]},{"d":"2017-07-21","e":"2017-08-10","r":[0,2,4,6,8,10,12,14,16,18,20,22,24]},{"d":"2017-08-10","e":"2017-08-30","r":[1,3,5,7,9,11,13,15,17,19,21,23,25]},{"d":"2017-08-30","e":"2017-09-19","r":[0,2,4,6,8,10,12,14,16,18,20,22,24]},{"d":"2017-09-19","e":"2017-10-09","r":[1,3,5,7,9,11,13,15,17,19,21,23,25]},{"d":"2017-10-09","e":"2017-10-29","r":[0,2,4,6,8,10,12,14,16,18,20,22,24]},{"d":"2017-10-29","e":"2017-11-18","r":[1,3,5,7,9,11,13,15,17,19,21,23,25]},{"d":"2017-11-18","e":"2017-12-08","r":[0,2,4,6,8,10,12,14,16,18,20,22,24]},{"d":"2017-12-08","e":"2017-12-28","r":[1,3,5,7,9,11,13,15,17,19,21,23,25]},{"d":"2017-12-28","e":"2018-01-17","r":[0,2,4,6,8,10,12,14,16,18,20,22,24]},{"d":"2018-01-17","e":"2018-02-06","r":[1,3,5,7,9,11,13,15,17,19,21,23,25]},{"d":"2018-02-06","e":"2018-02-26","r":[0,2,4,6,8,10,12,14,16,18,20,22,24]},{"d":"2018-02-26","e":"2018-03-18","r":[1,3,5,7,9,11,13,15,17,19,21,23,25]},{"d":"2018-03-18","e":"2018-04-07","r":[0,2,4,6,8,10,12,14,16,18,20,22,24]},{"d":"2018-04-07","e":"2018-04-27","r":[1,3,5,7,9,11,13,15,17,19,21,23,25]},{"d":"2018-04-27","e":"2018-05-17","r":[0,2,4,6,8,10,12,14,16,18,20,22,24]},{"d":"2018-05-17","e":"2018-06-06","r":[1,3,5,7,9,11,13,15,17,19,21,23,25]},{"d":"2018-06-06","e":"2018-06-26","r":[0,2,4,6,8,10,12,14,16,18,20,22,24]},{"d":"2018-06-26","e":"2018-07-16","r":[1,3,5,7,9,11,13,15,17,19,21,23,25]},{"d":"2018-07-16","e":"2018-08-05","r":[0,2,4,6,8,10,12,14,16,18,20,22,24]},{"d":"2018-08-05","e":"2018-08-25","r":[1,3,5,7,9,11,13,15,17,19,21,23,25]},{"d":"2018-08-25","e":"2018-09-14","r":[0,2,4,6,8,10,12,14,16,18,20,22,24]}
]
},
"encoding":{"x":{"field":"d","type":"temporal","title":null,"scale":{"type":"utc","domain":["2016-04-17","2018-09-14"]},
 "axis":{"orient":"bottom","offset":-59,"zindex":1,"domain":false,"grid":false,"values":["2016-07-01","2016-10-07","2017-01-06","2017-04-07","2017-07-07","2017-10-06","2018-01-05","2018-04-06"],
  "labelExpr":"utcmonth(datum.value)==0 ? utcyear(datum.value)+'' : substring(utcFormat(datum.value,'%b'),0,1)",
  "labelAlign":"left","labelBaseline":"top","labelPadding":0,"labelFlush":false,"labelOverlap":false,"labelBound":false,"tickColor":"#d81818","tickSize":7,"labelFontSize":14,"labelFontWeight":"bold","labelColor":"#111111"}}},
"resolve":{"scale":{"y":"independent","color":"independent"}},
"layer":[
{"data":{"name":"checker"},"transform":[{"flatten":["r"]}],
 "mark":{"type":"rect","color":"#ededed"},
 "encoding":{"x2":{"field":"e"},"y":{"field":"r","type":"ordinal","axis":null,"scale":{"type":"band","domain":[0,1,2,3,4,5,6,7,8,9,10,11,12,13,14,15,16,17,18,19,20,21,22,23,24,25],"range":[0,520],"paddingInner":0,"paddingOuter":0}}}},
{"data":{"values":[{"d":"2016-07-01"},{"d":"2016-10-07"},{"d":"2017-01-06"},{"d":"2017-04-07"},{"d":"2017-07-07"},{"d":"2017-10-06"},{"d":"2018-01-05"},{"d":"2018-04-06"}]},
 "mark":{"type":"rule","color":"#adadad","strokeDash":[1,3],"strokeWidth":1},
 "encoding":{"y":{"datum":0,"type":"quantitative","axis":null,"scale":{"domain":[0,1],"range":[460,41]}},"y2":{"datum":1}}},
{"encoding":{"y":{"field":"p","type":"quantitative","title":null,"scale":{"domain":[563.2,708.4],"range":[299,40],"zero":false,"nice":false},
  "axis":{"orient":"right","offset":-122,"zindex":1,"values":[580,600,620,640,660,680,700],"format":".3f","grid":false,"domainColor":"#d81818","tickColor":"#d81818","tickSize":5,"labelPadding":2,"labelFontSize":14,"labelFontWeight":"bold","labelColor":"#111111"}}},
 "layer":[
 {"data":{"values":[{"d":"2016-06-18","e":"2018-05-15","p":580},{"d":"2016-06-18","e":"2018-05-15","p":600},{"d":"2016-06-18","e":"2018-05-15","p":620},{"d":"2016-06-18","e":"2018-05-15","p":640},{"d":"2016-06-18","e":"2018-05-15","p":660},{"d":"2016-06-18","e":"2018-05-15","p":680},{"d":"2016-06-18","e":"2018-05-15","p":700}]},
  "mark":{"type":"rule","color":"#adadad","strokeDash":[1,3],"strokeWidth":1},"encoding":{"x2":{"field":"e"}}},
 {"data":{"values":[{"d":"2018-05-15","e":"2018-05-18","p":570},{"d":"2018-05-15","e":"2018-05-18","p":590},{"d":"2018-05-15","e":"2018-05-18","p":610},{"d":"2018-05-15","e":"2018-05-18","p":630},{"d":"2018-05-15","e":"2018-05-18","p":650},{"d":"2018-05-15","e":"2018-05-18","p":670},{"d":"2018-05-15","e":"2018-05-18","p":690},{"d":"2018-05-15","e":"2018-07-14","p":563.2}]},
  "mark":{"type":"rule","color":"#d81818","strokeWidth":1},"encoding":{"x2":{"field":"e"}}},
 {"data":{"name":"bars"},"mark":{"type":"rule","strokeWidth":1.8},
  "encoding":{"y2":{"field":"p2"},"color":{"field":"c","type":"nominal","legend":null,"scale":{"domain":["U","D","N"],"range":["#0000e0","#e01010","#111111"]}}}},
 {"data":{"name":"env"},"mark":{"type":"line","interpolate":"monotone","strokeWidth":2},
  "encoding":{"detail":{"field":"s"},"color":{"field":"c","type":"nominal","legend":null}}},
 {"data":{"name":"dots"},"mark":{"type":"point","filled":true,"shape":"circle","size":80,"opacity":1},
  "encoding":{"color":{"field":"c","type":"nominal","legend":null}}},
 {"data":{"name":"head"},"mark":{"type":"text","align":"left","baseline":"middle","fontSize":13.85,"fontWeight":"bold"},
  "encoding":{"text":{"field":"t"},"color":{"field":"c","type":"nominal","legend":null}}}
 ]},
{"encoding":{"y":{"field":"p","type":"quantitative","title":null,"scale":{"domain":[0,0.618],"range":[333,299],"zero":false,"nice":false},
  "axis":{"orient":"right","offset":-122,"zindex":1,"values":[0.2],"format":".2f","grid":false,"domainColor":"#d81818","tickColor":"#d81818","tickSize":5,"labelPadding":6,"labelFontSize":14,"labelFontWeight":"bold","labelColor":"#111111"}}},
 "layer":[
 {"data":{"values":[{"d":"2016-06-18","e":"2018-05-15","p":0.2}]},"mark":{"type":"rule","color":"#adadad","strokeDash":[1,3],"strokeWidth":1},"encoding":{"x2":{"field":"e"}}},
 {"data":{"values":[{"d":"2018-05-15","e":"2018-05-18","p":0.296},{"d":"2018-05-15","e":"2018-05-18","p":0.254},{"d":"2018-05-15","e":"2018-05-18","p":0.173},{"d":"2018-05-15","e":"2018-07-14","p":0}]},"mark":{"type":"rule","color":"#d81818","strokeWidth":1},"encoding":{"x2":{"field":"e"}}}
 ]},
{"encoding":{"y":{"field":"p","type":"quantitative","title":null,"scale":{"domain":[-0.023,1.818],"range":[387,333],"zero":false,"nice":false},
  "axis":{"orient":"right","offset":-122,"zindex":1,"values":[1],"format":".2f","grid":false,"domainColor":"#d81818","tickColor":"#d81818","tickSize":5,"labelPadding":6,"labelFontSize":14,"labelFontWeight":"bold","labelColor":"#111111"}}},
 "layer":[
 {"data":{"values":[{"d":"2016-06-18","e":"2018-05-15","p":1}]},"mark":{"type":"rule","color":"#adadad","strokeDash":[1,3],"strokeWidth":1},"encoding":{"x2":{"field":"e"}}},
 {"data":{"values":[{"d":"2018-05-15","e":"2018-05-18","p":1.27},{"d":"2018-05-15","e":"2018-05-18","p":0.75},{"d":"2018-05-15","e":"2018-05-18","p":0.5},{"d":"2018-05-15","e":"2018-05-18","p":0.25},{"d":"2018-05-15","e":"2018-07-14","p":-0.023}]},"mark":{"type":"rule","color":"#d81818","strokeWidth":1},"encoding":{"x2":{"field":"e"}}},
 {"data":{"name":"cells"},"mark":{"type":"point","filled":true,"shape":"circle","size":66,"opacity":1},
  "encoding":{"color":{"field":"c","type":"nominal","legend":null,"scale":{"domain":["U","D"],"range":["#0000ff","#ff0000"]}}}},
 {"data":{"values":[{"d":"2016-06-19","p":1.13,"p2":0.12}]},"mark":{"type":"rule","color":"#0000ff","strokeWidth":3},"encoding":{"y2":{"field":"p2"}}}
 ]},
{"encoding":{"y":{"field":"p","type":"quantitative","title":null,"scale":{"domain":[-1.143,2.143],"range":[433,387],"zero":false,"nice":false},
  "axis":{"orient":"right","offset":-122,"zindex":1,"values":[0.2],"format":".2f","grid":false,"domainColor":"#d81818","tickColor":"#d81818","tickSize":5,"labelPadding":6,"labelFontSize":14,"labelFontWeight":"bold","labelColor":"#111111"}}},
 "layer":[
 {"data":{"values":[{"d":"2016-06-18","e":"2018-05-15","p":0.2}]},"mark":{"type":"rule","color":"#adadad","strokeDash":[1,3],"strokeWidth":1},"encoding":{"x2":{"field":"e"}}},
 {"data":{"values":[{"d":"2018-05-15","e":"2018-05-18","p":0.93},{"d":"2018-05-15","e":"2018-05-18","p":0.74},{"d":"2018-05-15","e":"2018-05-18","p":0.55},{"d":"2018-05-15","e":"2018-05-18","p":0.38},{"d":"2018-05-15","e":"2018-05-18","p":0},{"d":"2018-05-15","e":"2018-05-18","p":-0.21},{"d":"2018-05-15","e":"2018-05-18","p":-0.45},{"d":"2018-05-15","e":"2018-07-14","p":-1.143}]},"mark":{"type":"rule","color":"#d81818","strokeWidth":1},"encoding":{"x2":{"field":"e"}}},
 {"data":{"values":[{"d":"2017-02-17","p":0,"p2":0.4},{"d":"2016-07-15","p":0,"p2":-0.1},{"d":"2016-11-11","p":0,"p2":0.1},{"d":"2017-07-07","p":0,"p2":0.1},{"d":"2018-01-12","p":0,"p2":-0.1},{"d":"2018-02-09","p":0,"p2":0.1}]},"mark":{"type":"rule","color":"#e01010","strokeWidth":1.5},"encoding":{"y2":{"field":"p2"}}},
 {"data":{"name":"osc"},"mark":{"type":"line","color":"#0000e0","strokeWidth":1.5}}
 ]},
{"encoding":{"y":{"field":"p","type":"quantitative","title":null,"scale":{"domain":[0,1],"range":[460,433],"zero":false,"nice":false},
  "axis":{"orient":"right","offset":-122,"zindex":1,"labels":false,"ticks":false,"grid":false,"domainColor":"#d81818"}}},
 "layer":[
 {"data":{"name":"strip"},"mark":{"type":"rect"},
  "encoding":{"x2":{"field":"e"},"y2":{"field":"p2"},"color":{"field":"c","type":"nominal","legend":null,"scale":{"domain":["U","D"],"range":["#0000ff","#ff0000"]}}}},
 {"data":{"values":[{"d":"2016-06-18","e":"2018-07-14","p":0}]},"mark":{"type":"rule","color":"#d81818","strokeWidth":1.2},"encoding":{"x2":{"field":"e"}}},
 {"data":{"values":[{"d":"2018-05-15","e":"2018-05-17","p":0.33}]},"mark":{"type":"rule","color":"#d81818","strokeWidth":3},"encoding":{"x2":{"field":"e"}}}
 ]}
]
}
